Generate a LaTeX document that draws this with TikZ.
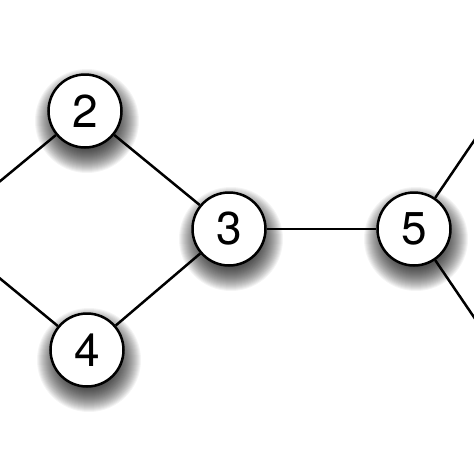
\documentclass[tikz,border=0pt]{standalone}
\usepackage{fontspec}
\setmainfont{TeX Gyre Heros}
\begin{document}
\begin{tikzpicture}[x=1pt,y=-1pt,
  vertex/.style={circle, draw=black, line width=2.5pt, fill=white, minimum size=73pt, inner sep=0pt,
    font=\fontsize{46}{46}\selectfont},
  edge/.style={line width=2.5pt},
  softshadow/.style={fill=black, fill opacity=0.045}]
\useasboundingbox (0,0) rectangle (474,474);
\fill[white] (0,0) rectangle (474,474);
\coordinate (n1) at (-59,230);
\coordinate (n6) at (514,82);
\coordinate (n7) at (514,376);
\foreach \px/\py in {85/111, 229/229, 87/350, 414/229} {
  \foreach \r in {22,23,...,52} {
    \fill[softshadow] (\px+2,\py+10) circle[radius=\r];
  }
}
\node[vertex] (n2) at (85,111) {2};
\node[vertex] (n3) at (229,229) {3};
\node[vertex] (n4) at (87,350) {4};
\node[vertex] (n5) at (414,229) {5};
\draw[edge] (n1) -- (n2);
\draw[edge] (n1) -- (n4);
\draw[edge] (n2) -- (n3);
\draw[edge] (n4) -- (n3);
\draw[edge] (n3) -- (n5);
\draw[edge] (n5) -- (n6);
\draw[edge] (n5) -- (n7);
\end{tikzpicture}
\end{document}
